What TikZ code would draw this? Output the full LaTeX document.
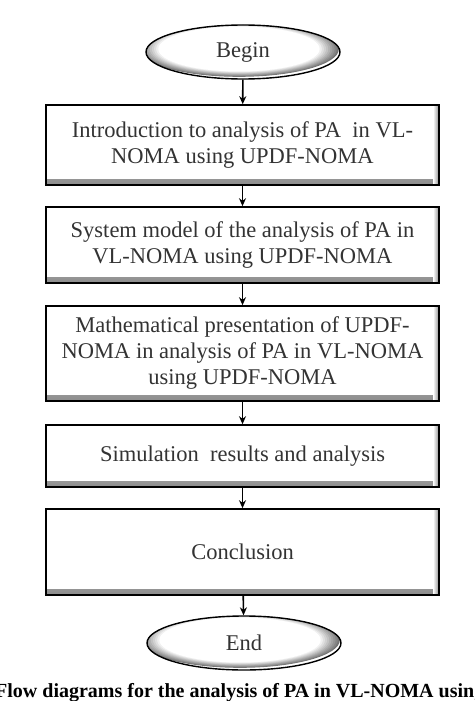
\documentclass[tikz,border=0pt]{standalone}
\usepackage{fontspec}
\setmainfont{Liberation Serif}
\usetikzlibrary{shapes.geometric,arrows.meta}
\newcommand{\boxfont}{\fontsize{22.5}{26}\selectfont}
\begin{document}
\begin{tikzpicture}[x=1pt,y=-1pt,
    stepbox/.style={draw=black, line width=1.6pt, minimum width=393pt, inner sep=0pt,
        align=center, text=black!80, font=\boxfont,
        path picture={
            \shade[top color=white, bottom color=black!45] (path picture bounding box.south west) rectangle ([yshift=6pt]path picture bounding box.south east);
            \shade[left color=white, right color=black!45] ([xshift=-6pt]path picture bounding box.south east) rectangle (path picture bounding box.north east);
        }},
    oval/.style={ellipse, draw=black, line width=1.4pt, minimum width=194pt, minimum height=54pt,
        text=black!80, font=\boxfont,
        path picture={
            \foreach \i [evaluate=\i as \f using 1.03-0.022*\i, evaluate=\i as \g using 54-6*\i] in {0,...,9}
                \fill[black!\g] ([xshift=-4pt, yshift=3pt]path picture bounding box.center) ellipse [x radius=\f*97pt, y radius=\f*27pt];
        }},
    flow/.style={line width=1.6pt, -{Stealth[length=8pt,width=7pt]}}]
    \useasboundingbox (0,0) rectangle (474,701);
    \clip (0,0) rectangle (474,701);
    % terminals
    \node[oval] (begin) at (243,52) {Begin};
    \node[oval] (stop) at (244,643) {End};
    % steps
    \node[stepbox, minimum height=80pt] (intro) at (242.5,145) {Introduction to analysis of PA\ \ in VL-\\NOMA using UPDF-NOMA};
    \node[stepbox, minimum height=76pt] (model) at (242.5,245) {System model of the analysis of PA in\\VL-NOMA using UPDF-NOMA};
    \node[stepbox, minimum height=95pt] (math) at (242.5,353.5) {Mathematical presentation of UPDF-\\NOMA in analysis of PA in VL-NOMA\\using UPDF-NOMA};
    \node[stepbox, minimum height=62pt] (sim) at (242.5,456) {Simulation\ \ results and analysis};
    \node[stepbox, minimum height=86pt] (concl) at (242.5,552) {Conclusion};
    % arrows
    \draw[flow] (begin) -- (intro);
    \draw[flow] (intro) -- (model);
    \draw[flow] (model) -- (math);
    \draw[flow] (math) -- (sim);
    \draw[flow] (sim) -- (concl);
    \draw[flow] (concl) -- (stop);
    % caption
    \node[anchor=base west, inner sep=0pt, font=\fontsize{20}{22}\bfseries] (caption) at (-5,697) {Flow diagrams for the analysis of PA in VL-NOMA using};
\end{tikzpicture}
\end{document}
